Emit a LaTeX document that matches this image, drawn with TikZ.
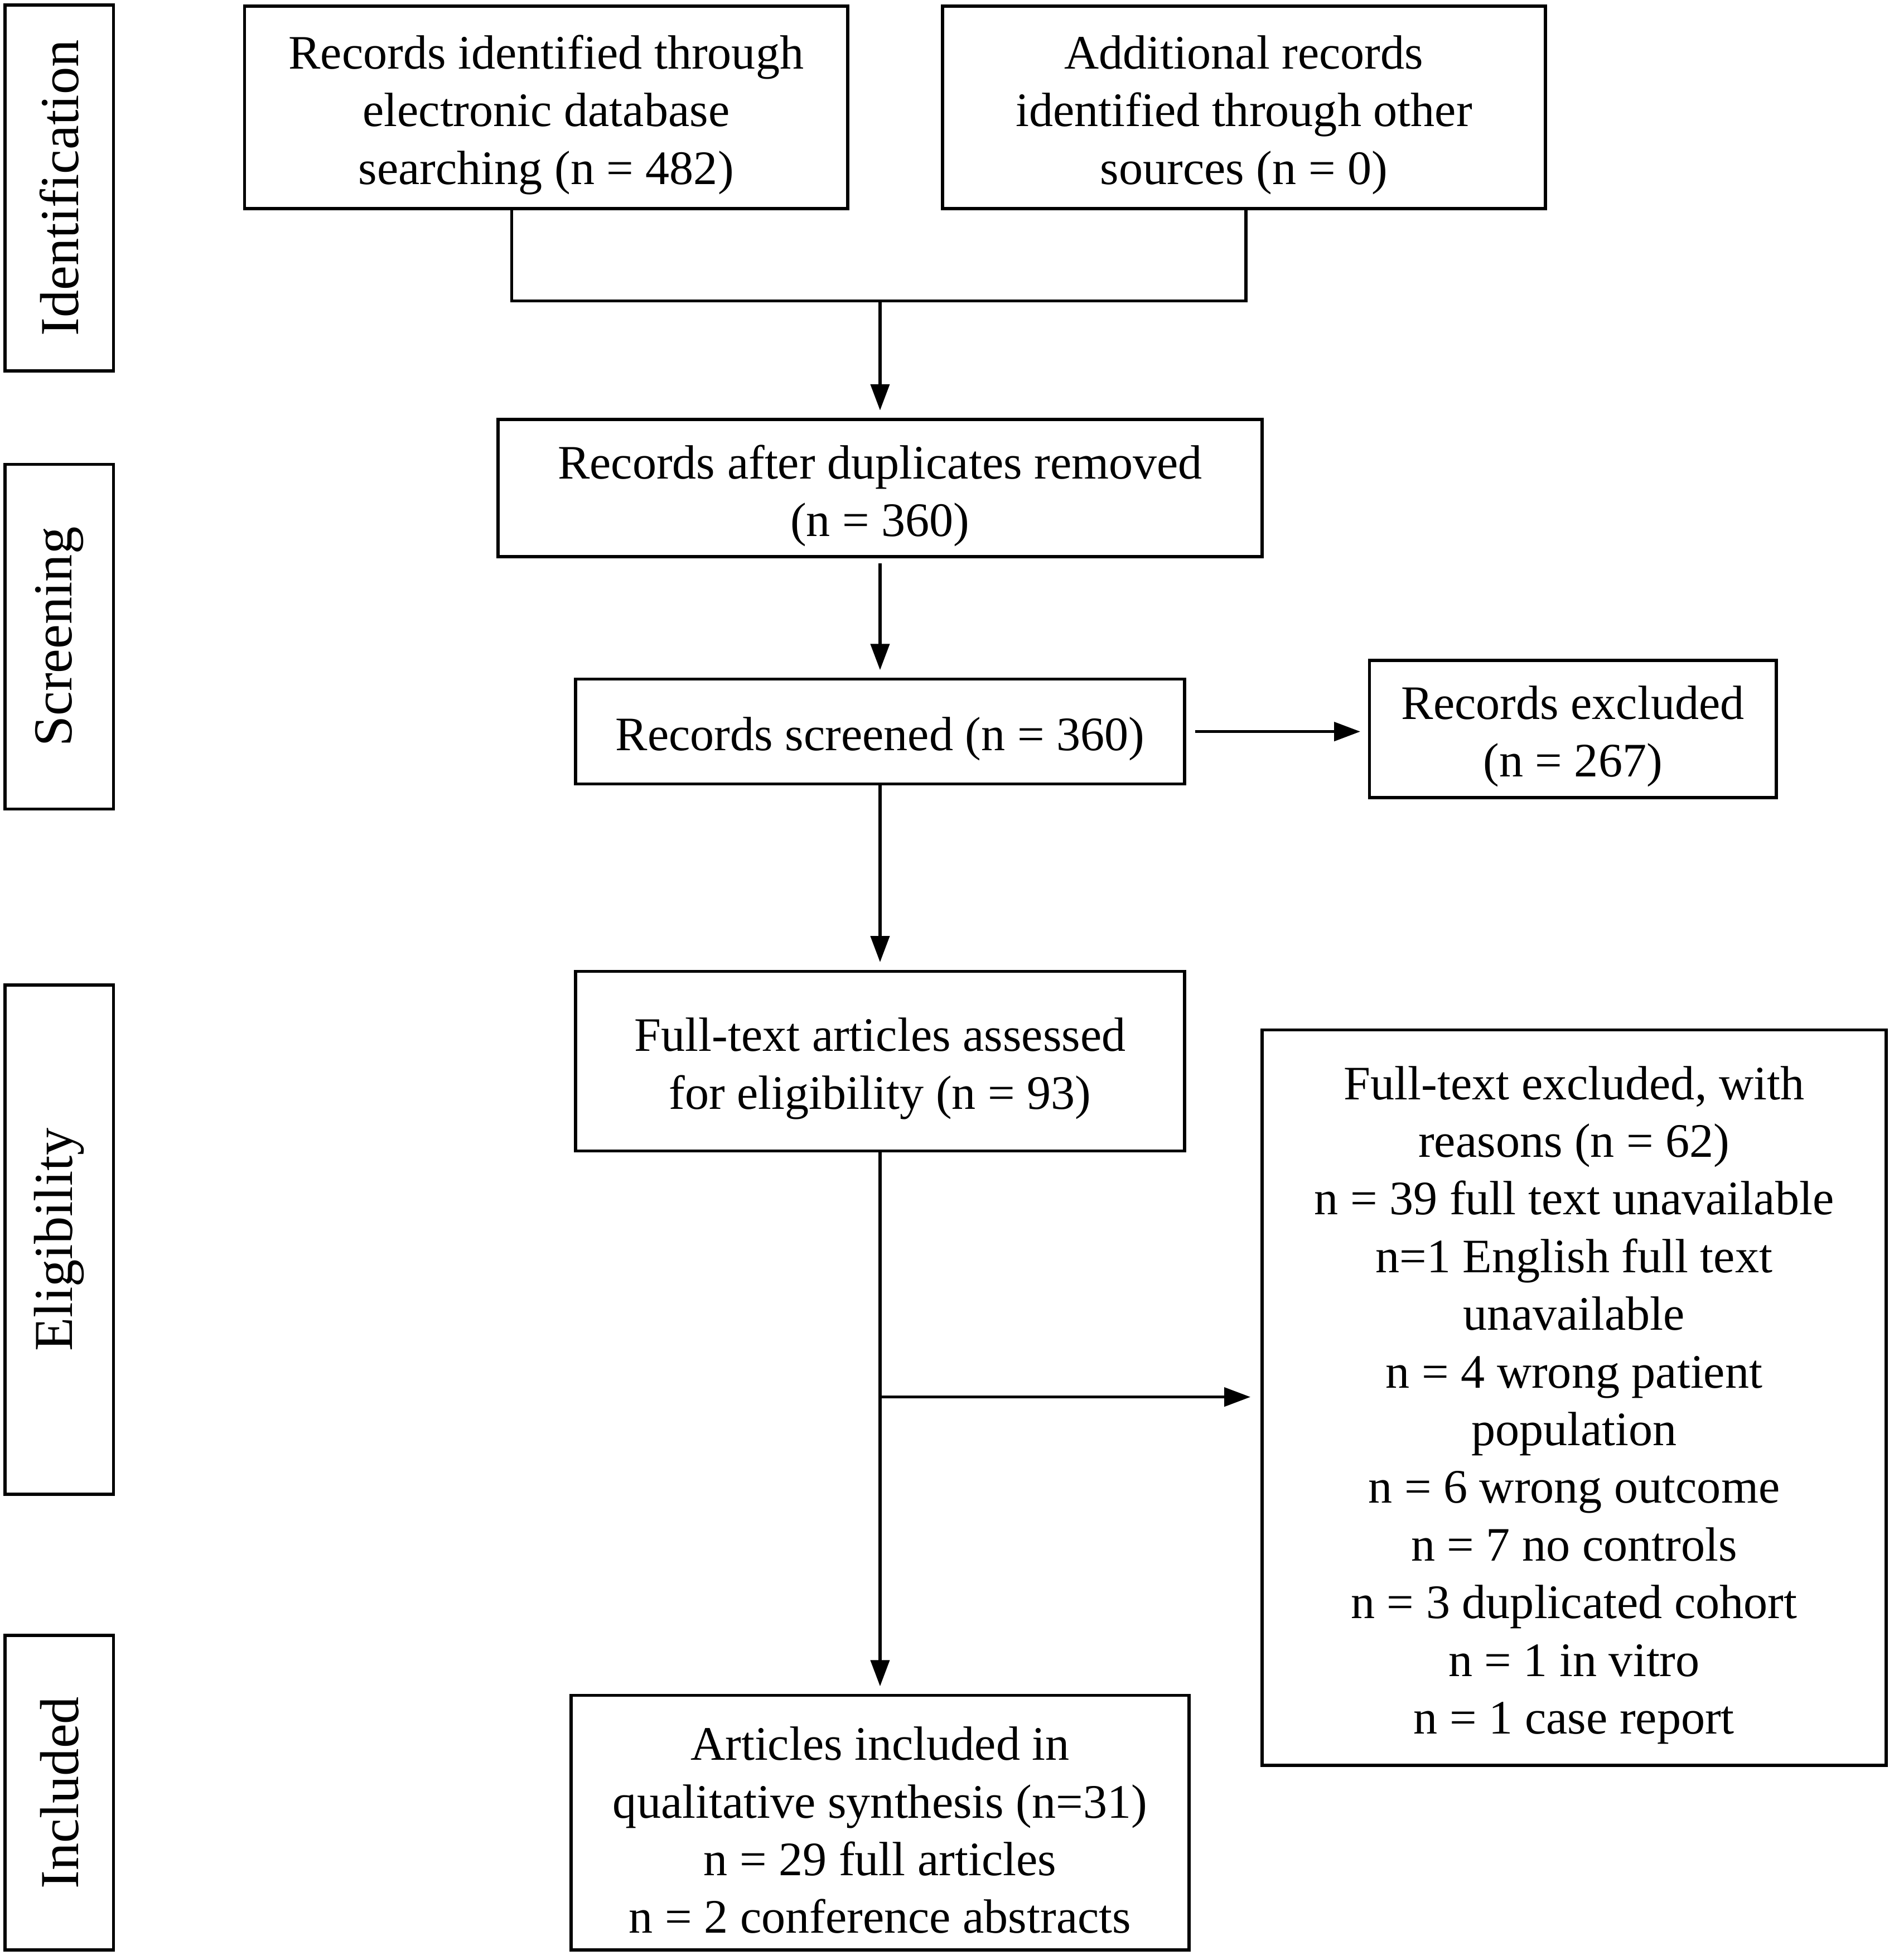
\documentclass[tikz,border=0pt]{standalone}
\usepackage{fontspec}
\setmainfont{Liberation Serif}
\usetikzlibrary{arrows.meta}
\newcommand\boxfs{\fontsize{38.5}{46.2}\selectfont}
\newcommand\sidefs{\fontsize{44}{50}\selectfont}
\begin{document}
\begin{tikzpicture}[x=1pt,y=-1pt,
  box/.style={draw, line width=2.5pt, inner sep=0pt},
  txt/.style={inner sep=0pt, align=center, font=\boxfs, yshift=-6pt},
  side/.style={draw, line width=2.5pt, inner sep=0pt, rotate=90, minimum height=87pt, font=\sidefs},
  conn/.style={line width=2.5pt},
  arr/.style={conn, -{Triangle[length=21pt,width=15pt]}, shorten >=6pt}]
\useasboundingbox (0,0) rectangle (1517,1570);

% side labels
\node[side, minimum width=293pt] (sid) at (47.5,150.5) {Identification};
\node[side, minimum width=276pt] (ssc) at (47.5,510) {Screening};
\node[side, minimum width=408pt] (sel) at (47.5,993) {Eligibility};
\node[side, minimum width=252pt] (sin) at (47.5,1436) {Included};

% boxes
\node[box, minimum width=483pt, minimum height=162pt] (b1) at (437.5,86) {};
\node[txt] (t1) at (b1.center) {Records identified through\\electronic database\\searching (n = 482)};
\node[box, minimum width=483pt, minimum height=162pt] (b2) at (996.5,86) {};
\node[txt] (t2) at (b2.center) {Additional records\\identified through other\\sources (n = 0)};
\node[box, minimum width=612pt, minimum height=110pt] (b3) at (705,391) {};
\node[txt] (t3) at (b3.center) {Records after duplicates removed\\(n = 360)};
\node[box, minimum width=488pt, minimum height=84pt] (b4) at (705,586) {};
\node[txt] (t4) at (b4.center) {Records screened (n = 360)};
\node[box, minimum width=326pt, minimum height=110pt] (b5) at (1260,584) {};
\node[txt] (t5) at (b5.center) {Records excluded\\(n = 267)};
\node[box, minimum width=488pt, minimum height=144pt] (b6) at (705,850) {};
\node[txt] (t6) at (b6.center) {Full-text articles assessed\\for eligibility (n = 93)};
\node[box, minimum width=500pt, minimum height=589pt] (b8) at (1261,1119.5) {};
\node[txt] (t8) at (b8.center) {Full-text excluded, with\\reasons (n = 62)\\n = 39 full text unavailable\\n=1 English full text\\unavailable\\n = 4 wrong patient\\population\\n = 6 wrong outcome\\n = 7 no controls\\n = 3 duplicated cohort\\n = 1 in vitro\\n = 1 case report};
\node[box, minimum width=495pt, minimum height=204pt] (b7) at (705,1460) {};
\node[txt] (t7) at (b7.center) {Articles included in\\qualitative synthesis (n=31)\\n = 29 full articles\\n = 2 conference abstracts};

% connectors
\coordinate (j1) at (410,241);
\coordinate (j2) at (998,241);
\coordinate (jm) at (705,241);
\coordinate (j3) at (705,1119);
\draw[conn] (b1.south -| j1) -- (j1) -- (j2) -- (b2.south -| j2);
\draw[arr] (jm) -- (b3.north);
\draw[arr, shorten <=4pt] (b3.south) -- (b4.north);
\draw[arr, shorten <=7pt] (b4.east) -- (b4.east -| b5.west);
\draw[arr] (b4.south) -- (b6.north);
\draw[arr] (b6.south) -- (b7.north);
\draw[arr, shorten >=8pt] (j3) -- (j3 -| b8.west);
\end{tikzpicture}
\end{document}
